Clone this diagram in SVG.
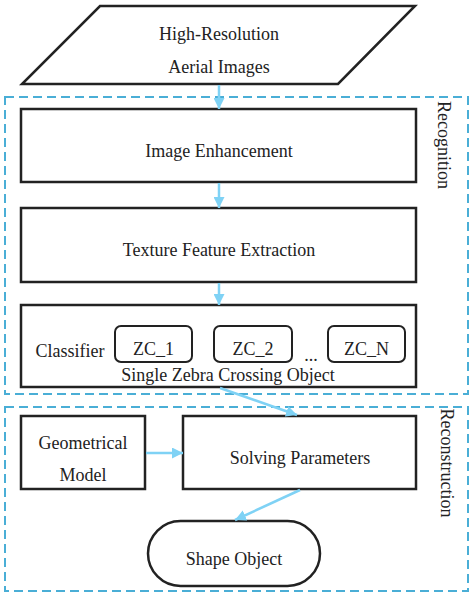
<svg xmlns="http://www.w3.org/2000/svg" width="474" height="598" viewBox="0 0 474 598">
<style>
.box{fill:#fff;stroke:#222;stroke-width:2.5}
.zc{fill:#fff;stroke:#222;stroke-width:2}
.grp{fill:none;stroke:#4aaed6;stroke-width:2;stroke-dasharray:9 5}
.t{font-family:"Liberation Serif","DejaVu Serif",serif;font-size:18px;fill:#222;text-anchor:middle}
.arr{stroke:#7fd2f5;stroke-width:2.5;fill:none;marker-end:url(#ah)}
</style>
<defs>
<marker id="ah" viewBox="0 0 10 10" refX="10" refY="5" markerWidth="4.4" markerHeight="4.4" markerUnits="strokeWidth" orient="auto">
<path d="M0,0 L10,5 L0,10 z" fill="#7fd2f5"/>
</marker>
</defs>
<rect width="474" height="598" fill="#fff"/>
<g id="recognition-group">
<rect class="grp" x="5" y="97" width="463" height="297"/>
<text class="t" transform="translate(438,145) rotate(90)">Recognition</text>
</g>
<g id="reconstruction-group">
<rect class="grp" x="5" y="407" width="463" height="184"/>
<text class="t" transform="translate(441,463) rotate(90)">Reconstruction</text>
</g>
<g id="input">
<polygon class="box" points="100,6 415,6 338,84 22,84"/>
<text class="t" x="219" y="40">High-Resolution</text>
<text class="t" x="219" y="73">Aerial Images</text>
</g>
<g id="enhancement">
<rect class="box" x="21" y="109" width="395" height="73"/>
<text class="t" x="219" y="157">Image Enhancement</text>
</g>
<g id="texture">
<rect class="box" x="21" y="208" width="395" height="74"/>
<text class="t" x="219" y="256">Texture Feature Extraction</text>
</g>
<g id="classifier">
<rect class="box" x="21" y="305" width="395" height="82"/>
<text class="t" x="70" y="357">Classifier</text>
<text class="t" x="228" y="381">Single Zebra Crossing Object</text>
</g>
<g id="zc1">
<rect class="zc" x="115" y="326" width="77" height="36" rx="6"/>
<text class="t" x="153.5" y="355">ZC_1</text>
</g>
<g id="zc2">
<rect class="zc" x="214" y="326" width="78" height="36" rx="6"/>
<text class="t" x="253" y="355">ZC_2</text>
</g>
<text class="t" x="311" y="361">...</text>
<g id="zcn">
<rect class="zc" x="328" y="326" width="77" height="36" rx="6"/>
<text class="t" x="366.5" y="355">ZC_N</text>
</g>
<g id="geometrical">
<rect class="box" x="21" y="416" width="124" height="73"/>
<text class="t" x="83" y="449">Geometrical</text>
<text class="t" x="83" y="481">Model</text>
</g>
<g id="solving">
<rect class="box" x="183" y="416" width="233" height="73"/>
<text class="t" x="300" y="464">Solving Parameters</text>
</g>
<g id="shape">
<rect class="box" x="148" y="521" width="172" height="65" rx="32.5"/>
<text class="t" x="234" y="565">Shape Object</text>
</g>
<g id="connectors">
<line class="arr" x1="219" y1="85" x2="219" y2="109"/>
<line class="arr" x1="219" y1="183" x2="219" y2="208"/>
<line class="arr" x1="219" y1="283" x2="219" y2="305"/>
<line class="arr" x1="220" y1="388" x2="297" y2="415"/>
<line class="arr" x1="146" y1="453" x2="183" y2="453"/>
<line class="arr" x1="300" y1="490" x2="235" y2="520"/>
</g>
</svg>
